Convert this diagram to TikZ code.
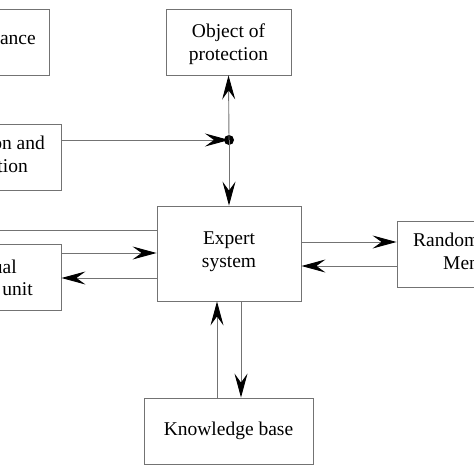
\documentclass[tikz,border=0pt]{standalone}
\usepackage{fontspec}
\setmainfont{Liberation Serif}
\usetikzlibrary{arrows.meta}

\begin{document}
\begin{tikzpicture}[
  x=1pt, y=-1pt,
  every node/.style={font=\fontsize{19.5}{23}\selectfont},
  block/.style={draw=black!55, line width=0.9pt, rectangle, inner sep=0pt, align=center},
  txt/.style={inner sep=0pt},
  link/.style={draw=black!55, line width=0.9pt},
  >={Stealth[length=24pt, width=13pt, inset=9pt, color=black]}
]
\useasboundingbox (0,0) rectangle (474,474);
\clip (0,0) rectangle (474,474);

% blocks
\node[block, minimum width=129pt, minimum height=66pt] (maint) at (-15.5,42) {};
\node[txt, anchor=east] at (36,40) {ance};

\node[block, minimum width=125pt, minimum height=66pt, text depth=0pt] (obj) at (228.5,42) {Object of\\protection};

\node[block, minimum width=131pt, minimum height=66pt] (reg) at (-4.5,157.5) {};
\node[txt, anchor=east] at (45,143) {on and};
\node[txt, anchor=east] at (28,166) {tion};

\node[block, minimum width=131pt, minimum height=66pt] (unit) at (-4.5,277.5) {};
\node[txt, anchor=east] at (17,267) {ual};
\node[txt, anchor=east] at (33,289) {unit};

\node[block, minimum width=144pt, minimum height=95pt] (exp) at (229,253.5) {};
\node[txt] at (229,240) {Expert};
\node[txt] at (229,264) {system};

\node[block, minimum width=140pt, minimum height=66pt] (ram) at (467,254) {};
\node[txt, anchor=west] at (413,240) {Random};
\node[txt, anchor=west] at (443,263) {Mem};

\node[block, minimum width=169pt, minimum height=66pt] (kb) at (228.5,431) {Knowledge base};

% junction
\fill (229,140) circle (5pt) coordinate (dot);
\coordinate (feed) at (-10,230);

% connectors
\draw[link, ->] (reg.east |- dot) -- (dot);
\draw[link, ->] (dot) -- (obj.south);
\draw[link, ->] (dot) -- (exp.north);
\draw[link] (feed) -- (exp.west |- feed);
\draw[link, ->] (unit.east |- 0,253) -- (exp.west |- 0,253);
\draw[link, ->] (exp.west |- 0,278) -- (unit.east |- 0,278);
\draw[link, ->] (exp.east |- 0,242) -- (ram.west |- 0,242);
\draw[link, ->] (ram.west |- 0,266) -- (exp.east |- 0,266);
\draw[link, ->] (kb.north -| 217,0) -- (exp.south -| 217,0);
\draw[link, ->] (exp.south -| 241,0) -- (kb.north -| 241,0);
\end{tikzpicture}
\end{document}
